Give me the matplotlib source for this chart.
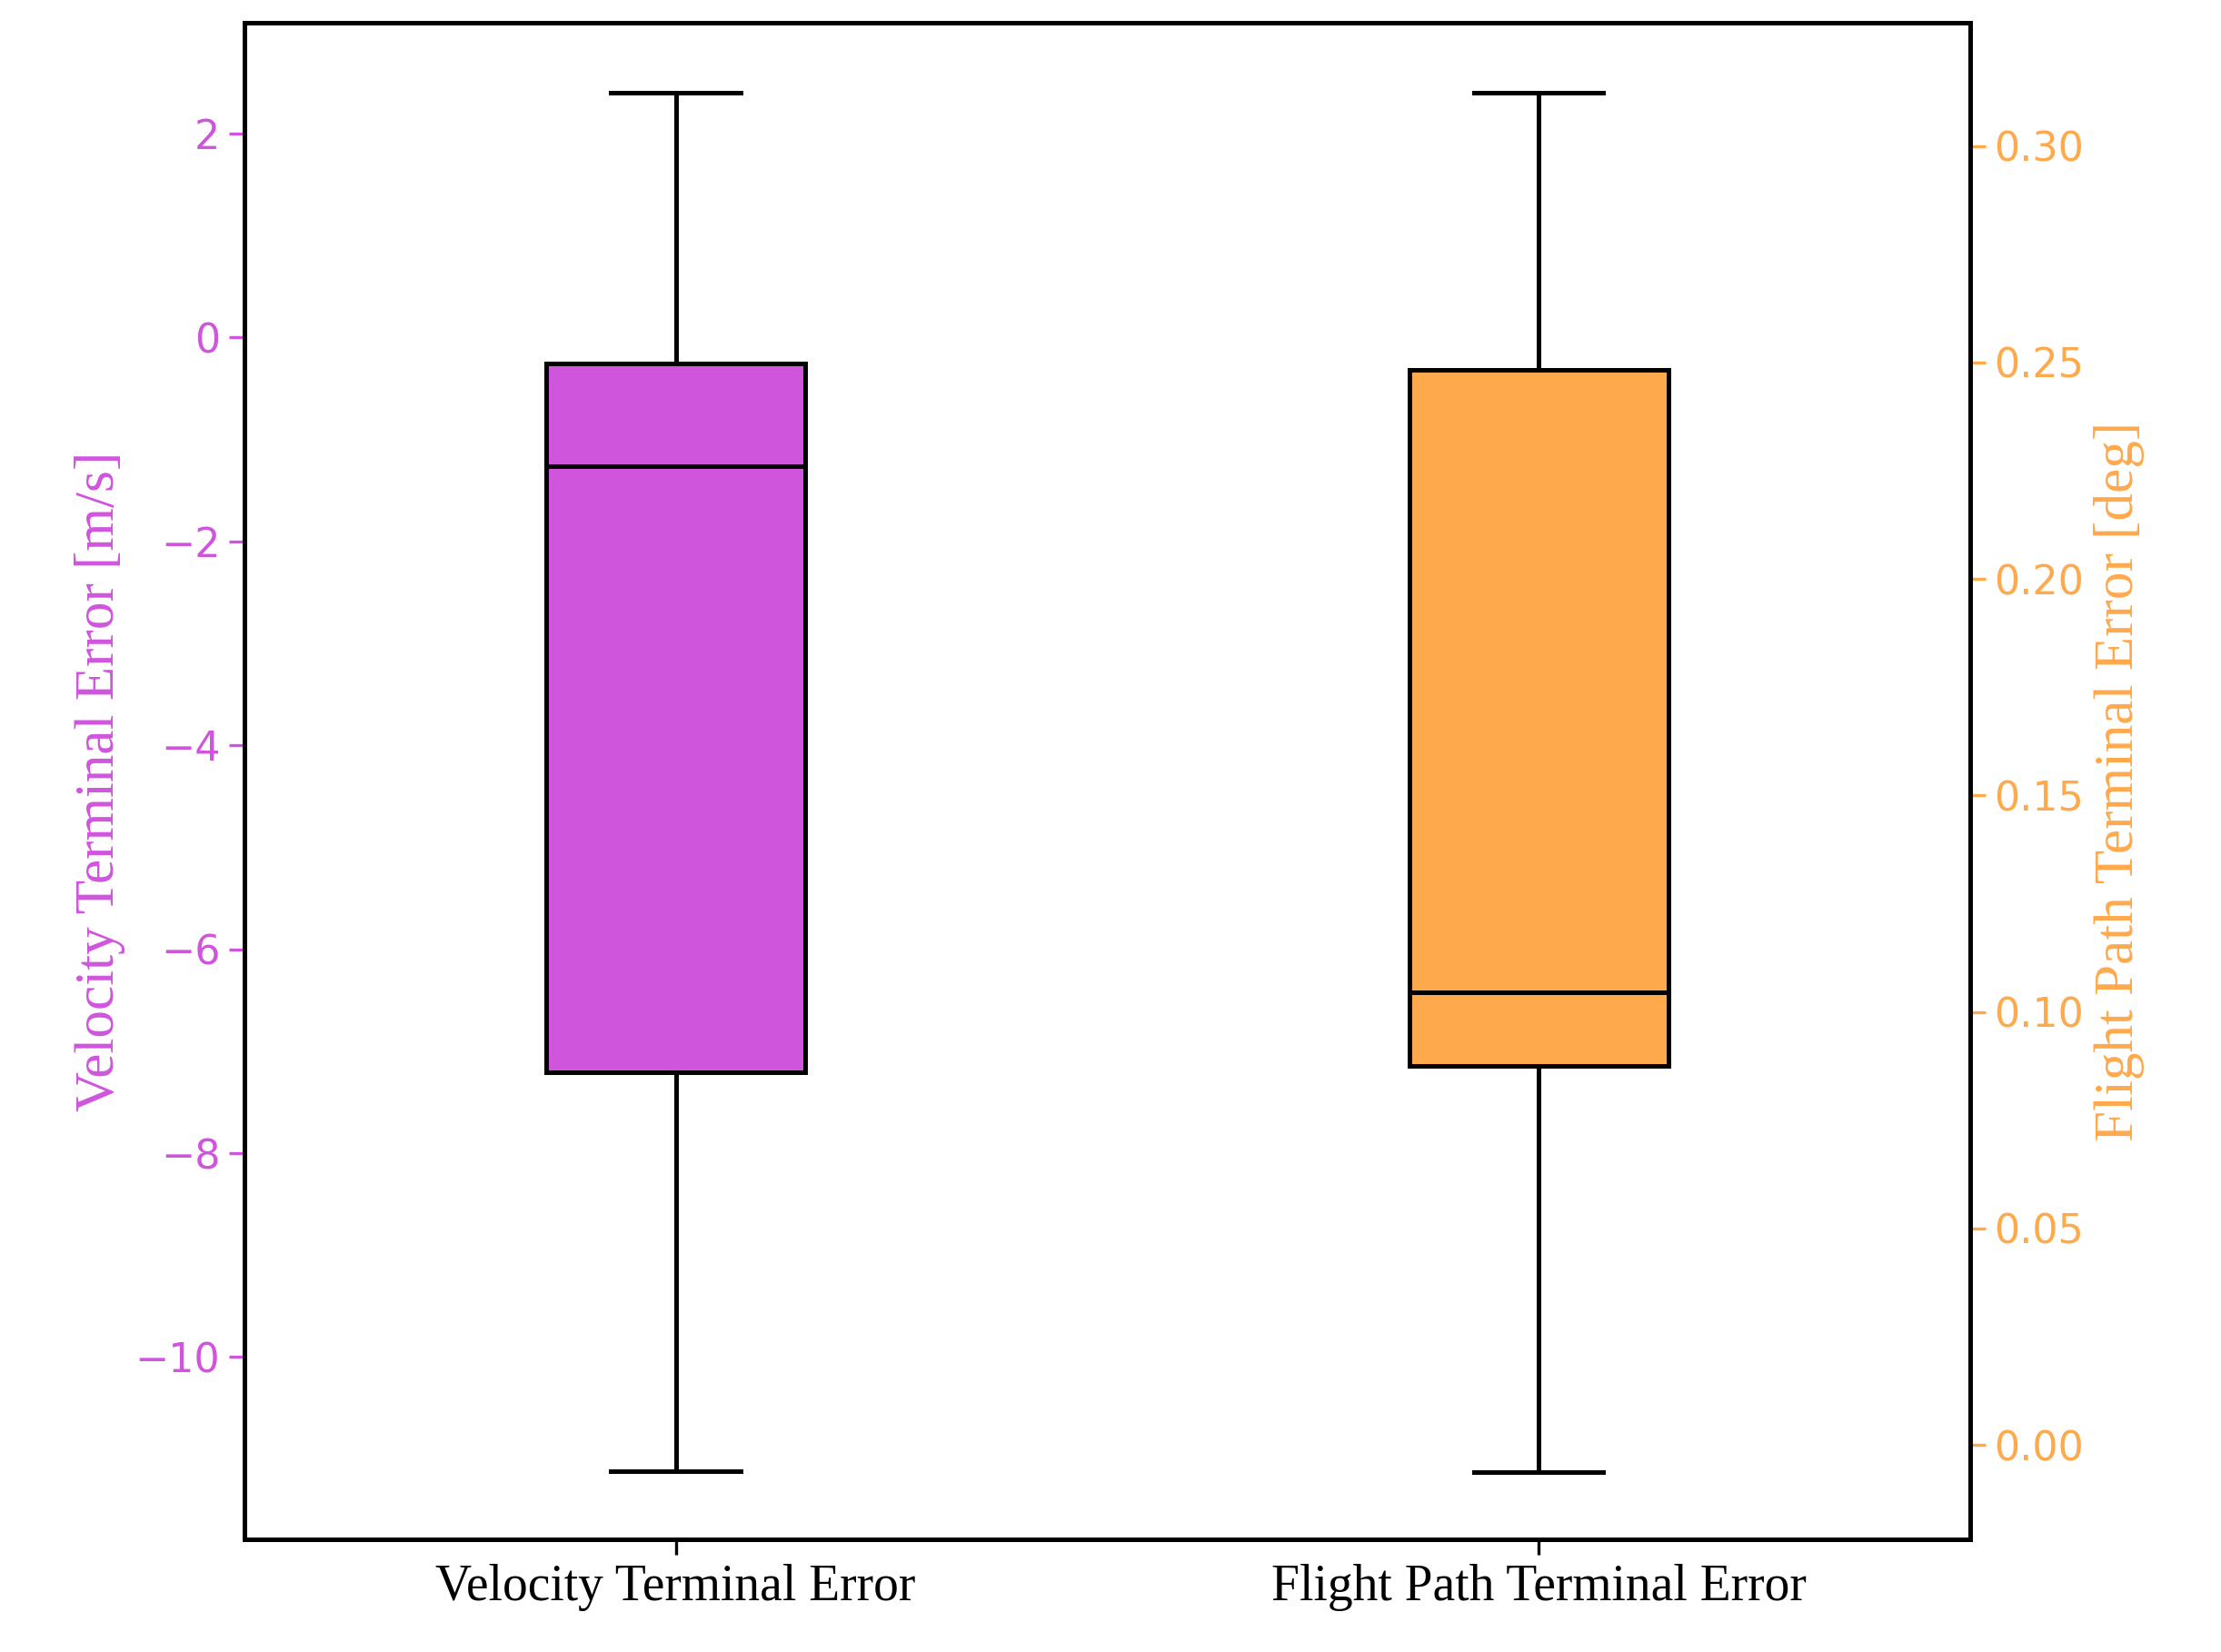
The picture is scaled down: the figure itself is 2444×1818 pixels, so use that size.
"""Box plot of terminal errors with twin y axes"""

import matplotlib
matplotlib.use("Agg")
import matplotlib.pyplot as plt

categories = ["Velocity Terminal Error", "Flight Path Terminal Error"]
# whislo, q1, med, q3, whishi
velocity_stats = [-11.12, -7.21, -1.26, -0.26, 2.40]
flight_path_stats = [-0.0062, 0.0876, 0.1046, 0.2484, 0.3124]

purple = "#D055DD"
orange = "#FFA94D"


def to_bxp(values: list[float], label: str) -> dict:
    lo, q1, med, q3, hi = values
    return {"whislo": lo, "q1": q1, "med": med, "q3": q3, "whishi": hi,
            "fliers": [], "label": label}


fig = plt.figure(figsize=(12.22, 9.09), dpi=200)
ax = fig.add_axes([0.110, 0.068, 0.777, 0.918])
ax2 = ax.twinx()

line_props = dict(color="black", linewidth=1.8)
ax.bxp([to_bxp(velocity_stats, categories[0])], positions=[1], widths=0.3,
       patch_artist=True,
       boxprops=dict(facecolor=purple, edgecolor="black", linewidth=1.8),
       medianprops=line_props, whiskerprops=line_props, capprops=line_props)
ax2.bxp([to_bxp(flight_path_stats, categories[1])], positions=[2], widths=0.3,
        patch_artist=True,
        boxprops=dict(facecolor=orange, edgecolor="black", linewidth=1.8),
        medianprops=line_props, whiskerprops=line_props, capprops=line_props)

ax.set_xlim(0.5, 2.5)
ax.set_xticks([1, 2])
ax.set_xticklabels(categories, fontfamily="Liberation Serif", fontsize=20)
ax.set_ylim(-11.79, 3.08)
ax2.set_ylim(-0.0219, 0.3284)
ax.set_yticks([-10, -8, -6, -4, -2, 0, 2])
ax2.set_yticks([0.0, 0.05, 0.10, 0.15, 0.20, 0.25, 0.30])

ax.set_ylabel("Velocity Terminal Error [m/s]", color=purple,
              fontfamily="Liberation Serif", fontsize=22)
ax2.set_ylabel("Flight Path Terminal Error [deg]", color=orange,
               fontfamily="Liberation Serif", fontsize=22)
ax.tick_params(axis="y", colors=purple, labelsize=16, length=6, width=1.2)
ax2.tick_params(axis="y", colors=orange, labelsize=16, length=6, width=1.2)
ax.tick_params(axis="x", labelsize=20, length=6, width=1.2)
for a in (ax, ax2):
    for s in a.spines.values():
        s.set_linewidth(1.8)

fig.savefig("out.png")
